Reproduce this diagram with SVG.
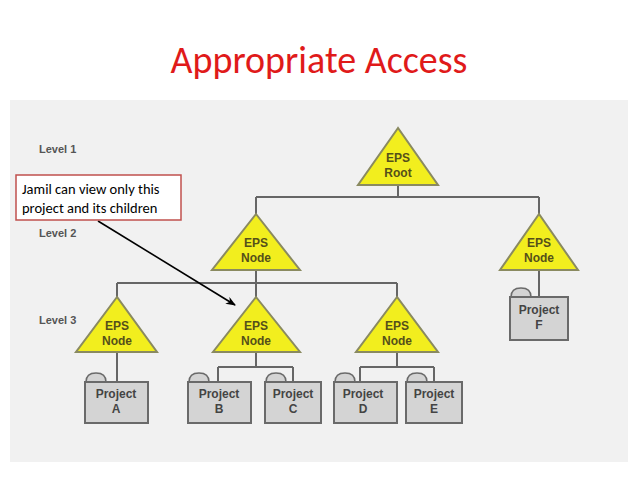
<svg xmlns="http://www.w3.org/2000/svg" width="638" height="478" viewBox="0 0 638 478">
<defs>
<marker id="ah" markerWidth="10" markerHeight="8" refX="9" refY="4" orient="auto" markerUnits="userSpaceOnUse"><path d="M0,0 L10,4 L0,8 L3,4 Z" fill="#000"/></marker>
</defs>
<style>
.tri{fill:#f2ee1e;stroke:#8a8a60;stroke-width:2}
.box{fill:#d4d4d4;stroke:#6a6a6a;stroke-width:2}
.tab{fill:#d4d4d4;stroke:#6a6a6a;stroke-width:1.5}
.t{font-family:"Liberation Sans",Arial,sans-serif;font-weight:bold;font-size:12px;text-anchor:middle}
.ty{fill:#55501a}
.tb{fill:#444}
.lv{font-family:"Liberation Sans",Arial,sans-serif;font-weight:bold;font-size:11px;fill:#555}
.c{fill:none;stroke:#666;stroke-width:2}
</style>
<rect width="638" height="478" fill="#fff"/>
<rect x="10" y="100" width="618" height="362" fill="#f1f1f1"/>
<text x="319" y="73" font-family="Carlito,'Liberation Sans',sans-serif" font-size="38" fill="#e01a1a" text-anchor="middle">Appropriate Access</text>
<text class="lv" x="39" y="153">Level 1</text>
<text class="lv" x="39" y="237">Level 2</text>
<text class="lv" x="39" y="324">Level 3</text>
<g id="connectors">
<path class="c" d="M398,185 V197 M256,197 H539 M256,197 V214 M539,197 V214"/>
<path class="c" d="M256,270 V283 M117,283 H397 M117,283 V297 M256,283 V297 M397,283 V297"/>
<path class="c" d="M539,270 V297"/>
<path class="c" d="M117,352 V382"/>
<path class="c" d="M256,352 V367 M218,367 H293 M218,367 V382 M293,367 V382"/>
<path class="c" d="M397,352 V367 M360,367 H434 M360,367 V382 M434,367 V382"/>
<line x1="98" y1="221" x2="235" y2="305" stroke="#000" stroke-width="1.6" marker-end="url(#ah)"/>
</g>
<g id="root"><polygon class="tri" points="398,128 358,185 438,185"/><text class="t ty" x="398" y="162">EPS</text><text class="t ty" x="398" y="177">Root</text></g>
<g id="node2a"><polygon class="tri" points="256,214 212,270 300,270"/><text class="t ty" x="256" y="247">EPS</text><text class="t ty" x="256" y="262">Node</text></g>
<g id="node2b"><polygon class="tri" points="539,214 500,270 578,270"/><text class="t ty" x="539" y="247">EPS</text><text class="t ty" x="539" y="262">Node</text></g>
<g id="node3a"><polygon class="tri" points="117,297 76,352 157,352"/><text class="t ty" x="117" y="330">EPS</text><text class="t ty" x="117" y="345">Node</text></g>
<g id="node3b"><polygon class="tri" points="256,297 213,352 300,352"/><text class="t ty" x="256" y="330">EPS</text><text class="t ty" x="256" y="345">Node</text></g>
<g id="node3c"><polygon class="tri" points="397,297 356,352 438,352"/><text class="t ty" x="397" y="330">EPS</text><text class="t ty" x="397" y="345">Node</text></g>
<g id="projA"><path class="tab" d="M86,382 Q86,373 96,373 Q106,373 106,382"/><rect class="box" x="85" y="382" width="63" height="41"/><text class="t tb" x="116" y="398">Project</text><text class="t tb" x="116" y="413">A</text></g>
<g id="projB"><path class="tab" d="M189,382 Q189,373 199,373 Q209,373 209,382"/><rect class="box" x="188" y="382" width="63" height="41"/><text class="t tb" x="219" y="398">Project</text><text class="t tb" x="219" y="413">B</text></g>
<g id="projC"><path class="tab" d="M266,382 Q266,373 276,373 Q286,373 286,382"/><rect class="box" x="265" y="382" width="56" height="41"/><text class="t tb" x="293" y="398">Project</text><text class="t tb" x="293" y="413">C</text></g>
<g id="projD"><path class="tab" d="M335,382 Q335,373 345,373 Q355,373 355,382"/><rect class="box" x="334" y="382" width="63" height="41"/><text class="t tb" x="363" y="398">Project</text><text class="t tb" x="363" y="413">D</text></g>
<g id="projE"><path class="tab" d="M407,382 Q407,373 417,373 Q427,373 427,382"/><rect class="box" x="406" y="382" width="56" height="41"/><text class="t tb" x="434" y="398">Project</text><text class="t tb" x="434" y="413">E</text></g>
<g id="projF"><path class="tab" d="M511,297 Q511,288 521,288 Q531,288 531,297"/><rect class="box" x="510" y="297" width="58" height="43"/><text class="t tb" x="539" y="314">Project</text><text class="t tb" x="539" y="329">F</text></g>
<g id="callout"><rect x="16" y="175" width="165" height="45" fill="#fff" stroke="#c0504d" stroke-width="1.5"/><text font-family="Carlito,'Liberation Sans',sans-serif" font-size="14.5" fill="#000"><tspan x="22" y="194">Jamil can view only this</tspan><tspan x="22" y="213">project and its children</tspan></text></g>
</svg>
